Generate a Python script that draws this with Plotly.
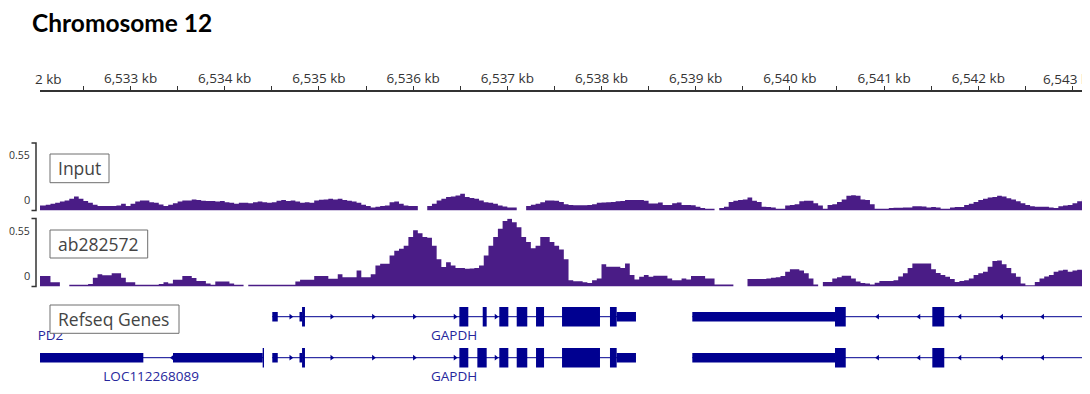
import plotly.graph_objects as go

# The page body has an 8px default margin, so the figure is sized to fill the
# remaining window area and all layout positions are measured from the window.
PAGE_OFFSET = 8
W, H = 1090 - PAGE_OFFSET, 394 - PAGE_OFFSET

# ---------------- data ----------------
TITLE = "Chromosome 12"
VIEW_START = 6532039
VIEW_END = 6543186
BIN_START = 6532000
BIN_SIZE = 50
DATA_MAX = 0.55
RULER_TICKS = list(range(6532500, 6543500, 500))
# labels that sit on the left / right edges of the ruler and are cut by the view
EDGE_LABELS = ["2 kb", "6,543 k"]

TRACK_NAMES = ["Input", "ab282572", "Refseq Genes"]

INPUT_VALUES = [
    .040, .040, .047, .055, .063, .074, .082, .096, .115, .096,
    .077, .063, .047, .036, .036, .036, .036, .041, .055, .036,
    .055, .074, .082, .082, .068, .063, .049, .036, .047, .060,
    .074, .082, .082, .090, .085, .079, .077, .077, .074, .077,
    .068, .063, .055, .063, .063, .060, .068, .074, .068, .063,
    .068, .079, .085, .077, .082, .074, .063, .068, .063, .082,
    .088, .090, .096, .090, .096, .085, .079, .074, .063, .047,
    .036, .025, .030, .036, .041, .068, .074, .055, .041, .036,
    .036, 0, 0, .036, .055, .082, .096, .110, .115, .123,
    .137, .110, .101, .096, .082, .068, .063, .055, .041, .033,
    .025, .025, 0, 0, .036, .047, .055, .068, .082, .082,
    .079,
    .070, .050, .045, .043, .043, .043, .045, .050, .063, .065,
    .068, .070, .075, .078, .085, .085, .085, .085, .080, .057,
    .057, .065, .045, .045, .060, .065, .045, .045, .042, .030,
    .020, .014, .014, 0, .020, .030, .070, .080, .085, .090,
    .105, .080, .070, .030, .028, .025, .014, .014, .040, .045,
    .050, .075, .080, .080, .060, .040, .015, .045, .050, .070,
    .090, .120, .125, .120, .090, .085, .050, .014, .014, .014,
    .020, .023, .023, .025, .025, .034, .034, .032, .025, .028,
    .025, .015, .015, .025, .028, .028, .045, .055, .070, .085,
    .095, .105, .110, .120, .115, .100, .090, .075, .060, .045,
    .035, .030, .030, .030, .025, .020, .035, .040, .045, .060,
    .075, .090, .100,
]

CHIP_VALUES = [
    .084, .084, .084, .035, .035, 0, 0, .014, .014, .014,
    .014, .020, .070, .100, .090, .090, .108, .108, .070, .035,
    .035, .014, .014, .014, .014, .014, .020, .035, .025, .055,
    .055, .084, .084, .068, .045, .045, .025, .014, .040, .040,
    .040, .025, .014, .014, 0, .014, .014, .014, .014, .014,
    .014, .014, .014, .014, .014, .040, .055, .055, .055, .084,
    .084, .084, .062, .062, .100, .075, .075, .075, .130, .075,
    .075, .100, .170, .184, .184, .250, .290, .305, .330, .400,
    .454, .430, .400, .395, .330, .220, .157, .197, .170, .150,
    .150, .143, .145, .150, .170, .250, .330, .400, .467, .530,
    .548, .520, .480, .400, .360, .310, .330, .400, .400, .360,
    .330,
    .300, .220, .050, .042, .042, .035, .028, .050, .065, .180,
    .160, .160, .160, .150, .186, .093, .056, .079, .093, .079,
    .087, .087, .087, .065, .050, .050, .065, .056, .085, .085,
    .085, .065, .065, .017, .017, .017, .017, 0, 0, 0,
    .060, .060, .060, .060, .065, .070, .075, .085, .120, .140,
    .140, .130, .107, .065, .017, 0, .037, .037, .065, .075,
    .087, .087, .065, .040, .028, .025, .017, .030, .045, .045,
    .045, .050, .080, .107, .150, .186, .186, .186, .186, .140,
    .110, .093, .079, .060, .037, .045, .050, .065, .093, .107,
    .120, .160, .206, .210, .180, .150, .107, .079, .025, .010,
    .010, .037, .065, .080, .093, .120, .130, .135, .120, .130,
    .135, .130, .130,
]

# transcripts (row 1 = upper, row 0 = lower)
TX_LABEL = ["GAPDH", "GAPDH", "LOC112268089", "", ""]
TX_ROW = [1, 0, 0, 1, 0]
TX_START = [6534505, 6534505, 6532020, 6538964, 6538964]
TX_END = [6538366, 6538366, 6534417, 6543500, 6543500]
TX_UTR = [
    [(6534505, 6534563), (6534794, 6534821), (6538161, 6538366)],
    [(6534505, 6534563), (6534794, 6534821), (6538161, 6538366)],
    [(6532020, 6533136), (6533451, 6534403)],
    [(6538964, 6540479)],
    [(6538964, 6540479)],
]
TX_CDS = [
    [(6534821, 6534852), (6536491, 6536586), (6536739, 6536781), (6536915, 6537011),
     (6537100, 6537212), (6537305, 6537390), (6537581, 6537984), (6538090, 6538161)],
    [(6534821, 6534852), (6536491, 6536586), (6536682, 6536781), (6536915, 6537011),
     (6537100, 6537212), (6537305, 6537390), (6537581, 6537984), (6538090, 6538161)],
    [(6534403, 6534417)],
    [(6540479, 6540593), (6541512, 6541639)],
    [(6540479, 6540593), (6541512, 6541639)],
]
TX_STRAND = ["+", "+", "-", "-", "-"]
TX_ARROWS = [
    [6534701, 6535136, 6535578, 6536013, 6536445, 6536880],
    [6534701, 6535136, 6535578, 6536013, 6536445, 6536880],
    [6533445],
    [6540932, 6541371, 6541806, 6542249, 6542684, 6543126],
    [6540932, 6541371, 6541806, 6542249, 6542684, 6543126],
]
# label of the neighbouring gene whose body lies left of the view
OFFVIEW_LABEL = "PD2"
OFFVIEW_LABEL_POS = 6532150

# ---------------- styling ----------------
TRACK_COLOR = "#4a1c86"
GENE_COLOR = "#000090"
GENE_TEXT = "#26269c"
AXIS_COLOR = "#333333"
TEXT_COLOR = "#333333"
FONT = "Open Sans, Noto Sans, sans-serif"


def fx(px):
    return (px - PAGE_OFFSET) / W


def fy(py):
    return 1 - (py - PAGE_OFFSET) / H


XDOM = [fx(40), 1.0]

fig = go.Figure()

# invisible anchor trace so the ruler subplot is rendered
fig.add_trace(go.Scatter(x=[VIEW_START, VIEW_END], y=[0, 0], mode="markers",
                         marker=dict(opacity=0), xaxis="x", yaxis="y",
                         hoverinfo="skip", showlegend=False))

# signal tracks
edges = [BIN_START + i * BIN_SIZE for i in range(len(INPUT_VALUES) + 1)]
for vals, ax in [(INPUT_VALUES, "2"), (CHIP_VALUES, "3")]:
    fig.add_trace(go.Scatter(
        x=edges, y=list(vals) + [vals[-1]],
        mode="lines", line=dict(width=0, shape="hv", color=TRACK_COLOR),
        fill="tozeroy", fillcolor=TRACK_COLOR,
        xaxis="x" + ax, yaxis="y" + ax, hoverinfo="skip", showlegend=False,
    ))

# gene models
shapes = []
UTR_H = 0.115
CDS_H = 0.238
for k in range(len(TX_ROW)):
    r = TX_ROW[k]
    shapes.append(dict(type="line", xref="x4", yref="y4", x0=TX_START[k], x1=TX_END[k],
                       y0=r, y1=r, line=dict(color=GENE_COLOR, width=1), layer="below"))
    for (a, b) in TX_UTR[k]:
        shapes.append(dict(type="rect", xref="x4", yref="y4", x0=a, x1=b,
                           y0=r - UTR_H, y1=r + UTR_H, fillcolor=GENE_COLOR,
                           line=dict(width=0), layer="below"))
    for (a, b) in TX_CDS[k]:
        shapes.append(dict(type="rect", xref="x4", yref="y4", x0=a, x1=b,
                           y0=r - CDS_H, y1=r + CDS_H, fillcolor=GENE_COLOR,
                           line=dict(width=0), layer="below"))
    sym = "triangle-right" if TX_STRAND[k] == "+" else "triangle-left"
    fig.add_trace(go.Scatter(
        x=TX_ARROWS[k], y=[r] * len(TX_ARROWS[k]), mode="markers",
        marker=dict(symbol=sym, size=5, color=GENE_COLOR, line=dict(width=0)),
        xaxis="x4", yaxis="y4", hoverinfo="skip", showlegend=False,
    ))

lab_x, lab_y, lab_t = [], [], []
for k in range(len(TX_ROW)):
    if TX_LABEL[k]:
        lab_x.append((TX_START[k] + TX_END[k]) / 2)
        lab_y.append(TX_ROW[k] - 0.49)
        lab_t.append(TX_LABEL[k])
lab_x.append(OFFVIEW_LABEL_POS)
lab_y.append(1 - 0.49)
lab_t.append(OFFVIEW_LABEL)
fig.add_trace(go.Scatter(
    x=lab_x, y=lab_y, text=lab_t, mode="text", textposition="middle center",
    textfont=dict(family=FONT, size=13.5, color=GENE_TEXT), cliponaxis=False,
    xaxis="x4", yaxis="y4", hoverinfo="skip", showlegend=False,
))

# track brackets and data-range labels
annotations = []
for (top, bot) in [(143, 210.5), (218.5, 286.5)]:
    shapes.append(dict(type="path", xref="paper", yref="paper",
                       path=f"M {fx(31.5)},{fy(top)} L {fx(36)},{fy(top)} L {fx(36)},{fy(bot)} L {fx(31.5)},{fy(bot)}",
                       line=dict(color=AXIS_COLOR, width=1.5)))
    annotations.append(dict(text=f"{DATA_MAX:g}", x=fx(31.5), y=fy(top + 12), xref="paper", yref="paper",
                            xanchor="right", yanchor="middle", showarrow=False,
                            font=dict(family=FONT, size=10.5, color=TEXT_COLOR)))
    annotations.append(dict(text="0", x=fx(31.5), y=fy(bot - 11), xref="paper", yref="paper",
                            xanchor="right", yanchor="middle", showarrow=False,
                            font=dict(family=FONT, size=11, color=TEXT_COLOR)))

# track name boxes
BOXES = [(50, 109, 154, 182.7), (50, 147.7, 230, 258), (50, 179, 305, 333.3)]
for name, (x0, x1, y0, y1) in zip(TRACK_NAMES, BOXES):
    shapes.append(dict(type="rect", xref="paper", yref="paper",
                       x0=fx(x0), x1=fx(x1), y0=fy(y1), y1=fy(y0),
                       fillcolor="white", line=dict(color="#6e6e6e", width=1), layer="above"))
    annotations.append(dict(text=name, x=fx(x0 + 6), y=fy((y0 + y1) / 2), xref="paper", yref="paper",
                            xanchor="left", yanchor="middle", showarrow=False,
                            font=dict(family=FONT, size=17.5, color="#444444")))

# title and ruler edge labels
annotations.append(dict(text=f"<b>{TITLE}</b>", x=fx(30), y=fy(22), xref="paper", yref="paper",
                        xanchor="left", yanchor="middle", showarrow=False,
                        font=dict(family="Lato, Open Sans, sans-serif", size=24.5, color="#000000")))
annotations.append(dict(text=EDGE_LABELS[0], x=fx(63.5), y=fy(78.5), xref="paper", yref="paper",
                        xanchor="right", yanchor="middle", showarrow=False,
                        font=dict(family=FONT, size=13.5, color=TEXT_COLOR)))
annotations.append(dict(text=EDGE_LABELS[1], x=1.0, y=fy(78.5), xref="paper", yref="paper",
                        xanchor="right", yanchor="middle", showarrow=False,
                        font=dict(family=FONT, size=13.5, color=TEXT_COLOR)))

tick_text = [f"{v // 1000:,} kb" if (v % 1000 == 0 and v < 6543000) else "" for v in RULER_TICKS]

hidden_x = dict(domain=XDOM, range=[VIEW_START, VIEW_END], visible=False, fixedrange=True)
fig.update_layout(
    width=W, height=H,
    margin=dict(l=0, r=0, t=0, b=0),
    paper_bgcolor="white", plot_bgcolor="rgba(0,0,0,0)",
    showlegend=False,
    xaxis=dict(domain=XDOM, range=[VIEW_START, VIEW_END], side="top", anchor="y",
               showline=True, linecolor=AXIS_COLOR, linewidth=1.6,
               ticks="outside", ticklen=5, tickwidth=1.2, tickcolor=AXIS_COLOR,
               tickmode="array", tickvals=RULER_TICKS, ticktext=tick_text,
               tickfont=dict(family=FONT, size=13.5, color=TEXT_COLOR),
               ticklabelstandoff=-3,
               showgrid=False, zeroline=False, fixedrange=True),
    yaxis=dict(domain=[fy(120), fy(92.3)], visible=False, range=[0, 1], fixedrange=True),
    xaxis2=dict(hidden_x, anchor="y2"),
    yaxis2=dict(domain=[fy(210.5), fy(143)], range=[0, DATA_MAX], visible=False, fixedrange=True),
    xaxis3=dict(hidden_x, anchor="y3"),
    yaxis3=dict(domain=[fy(286.5), fy(218.5)], range=[0, DATA_MAX], visible=False, fixedrange=True),
    xaxis4=dict(hidden_x, anchor="y4"),
    yaxis4=dict(domain=[fy(378.2), fy(296.2)], range=[-0.5, 1.5], visible=False, fixedrange=True),
    shapes=shapes,
    annotations=annotations,
)

fig.write_html("out.html")
